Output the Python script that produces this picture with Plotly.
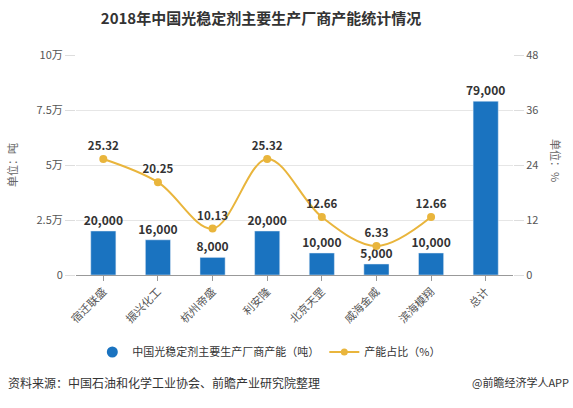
import plotly.graph_objects as go

categories = ["宿迁联盛", "振兴化工", "杭州帝盛", "利安隆", "北京天罡", "威海金威", "滨海模翔", "总计"]
capacity = [20000, 16000, 8000, 20000, 10000, 5000, 10000, 79000]
share_cats = categories[:7]
share = [25.32, 20.25, 10.13, 25.32, 12.66, 6.33, 12.66]
left_ticks = [0, 25000, 50000, 75000, 100000]
left_labels = ["0", "2.5万", "5万", "7.5万", "10万"]
right_ticks = [0, 12, 24, 36, 48]

W, H = 573, 408
ML, MR, MT, MB = 76, 60, 55, 133
PW, PH = W - ML - MR, H - MT - MB

def px(x):
    return (x - ML) / PW

def py(y):
    return (H - MB - y) / PH

FONT = "Noto Sans CJK SC, Noto Sans, sans-serif"
BLUE = "#1A73C0"
GOLD = "#E9B53C"

fig = go.Figure()
fig.add_trace(go.Bar(
    x=categories, y=capacity, marker_color=BLUE, showlegend=False,
    text=[f"{v:,}" for v in capacity], textposition="outside", cliponaxis=False,
    constraintext="none",
    textfont=dict(size=12, color="#333333", weight="bold"), yaxis="y",
))
fig.add_trace(go.Scatter(
    x=share_cats, y=share, mode="lines+markers+text", yaxis="y2",
    line=dict(color=GOLD, width=2, shape="spline", smoothing=1.0),
    marker=dict(color=GOLD, size=8), showlegend=False,
    text=[f"{v:.2f}" for v in share], textposition="top center",
    textfont=dict(size=11.5, color="#333333", weight="bold"), cliponaxis=False,
))
# legend entries
fig.add_trace(go.Scatter(
    x=[None], y=[None], mode="markers", name="中国光稳定剂主要生产厂商产能（吨）",
    marker=dict(color=BLUE, size=11, symbol="circle"),
))
fig.add_trace(go.Scatter(
    x=[None], y=[None], mode="lines+markers", name="产能占比（%）",
    line=dict(color=GOLD, width=2), marker=dict(color=GOLD, size=7), yaxis="y2",
))

fig.update_layout(
    width=W, height=H, margin=dict(l=ML, r=MR, t=MT, b=MB),
    paper_bgcolor="white", plot_bgcolor="white",
    font=dict(family=FONT, size=12, color="#555555"),
    bargap=0.54,
    title=dict(text="2018年中国光稳定剂主要生产厂商产能统计情况", x=261 / W, xanchor="center",
               y=1 - 19 / H, yanchor="middle",
               font=dict(size=15, color="#333333", weight="bold")),
    xaxis=dict(type="category", tickangle=-45, showline=True, linecolor="#999999",
               ticks="outside", ticklen=5, tickcolor="#999999", showgrid=False,
               tickfont=dict(size=11, color="#555555")),
    yaxis=dict(range=[0, 100000], tickvals=left_ticks, ticktext=left_labels,
               showgrid=True, gridcolor="#e6e6e6", zeroline=False, showline=False,
               ticks="outside", ticklen=10, tickcolor="#dddddd",
               tickfont=dict(size=11, color="#555555")),
    yaxis2=dict(range=[0, 48], tickvals=right_ticks, overlaying="y", side="right",
                showgrid=False, zeroline=False, showline=False,
                ticks="outside", ticklen=10, tickcolor="#dddddd",
                tickfont=dict(size=11, color="#555555")),
    legend=dict(orientation="h", xref="container", yref="container",
                x=0.47, xanchor="center", y=1 - 352 / H, yanchor="middle",
                font=dict(size=11, color="#333333"), itemwidth=30),
)

fig.add_annotation(text="单位：吨", textangle=-90, xref="paper", yref="paper",
                   x=px(12), y=py(165), xanchor="center", yanchor="middle",
                   showarrow=False, font=dict(size=11, color="#666666"))
fig.add_annotation(text="单位：%", textangle=90, xref="paper", yref="paper",
                   x=px(556), y=py(160), xanchor="center", yanchor="middle",
                   showarrow=False, font=dict(size=11, color="#666666"))
fig.add_annotation(text="资料来源：中国石油和化学工业协会、前瞻产业研究院整理",
                   xref="paper", yref="paper", x=px(6), y=py(382),
                   xanchor="left", yanchor="middle", showarrow=False,
                   font=dict(size=12, color="#333333"))
fig.add_annotation(text="@前瞻经济学人APP",
                   xref="paper", yref="paper", x=px(571), y=py(382),
                   xanchor="right", yanchor="middle", showarrow=False,
                   font=dict(size=11, color="#333333"))

fig.write_html("out.html")
